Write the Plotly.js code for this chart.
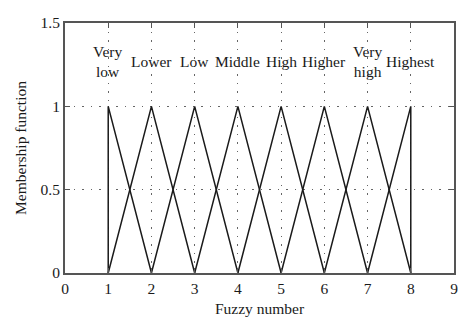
<!DOCTYPE html>
<html>
<head>
<meta charset="utf-8">
<script src="https://cdn.plot.ly/plotly-3.0.1.min.js"></script>
<style>html,body{margin:0;padding:0;background:#fff;}#chart{width:474px;height:335px;}</style>
</head>
<body>
<div id="chart"></div>
<script>
// Membership function names and their peak positions
const labelNames = ["Very<br>low", "Lower", "Low", "Middle", "High", "Higher", "Very<br>high", "Highest"];
const labelX = [1, 2, 3, 4, 5, 6, 7, 8];
const labelY = [1.27, 1.27, 1.27, 1.27, 1.27, 1.27, 1.27, 1.27];

// Triangle vertices for each membership function
const xVeryLow = [1, 1, 2];
const xLower = [1, 2, 3];
const xLow = [2, 3, 4];
const xMiddle = [3, 4, 5];
const xHigh = [4, 5, 6];
const xHigher = [5, 6, 7];
const xVeryHigh = [6, 7, 8];
const xHighest = [7, 8, 8];
const yTri = [0, 1, 0];

const xTicks = [0, 1, 2, 3, 4, 5, 6, 7, 8, 9];
const yTicks = [0, 0.5, 1, 1.5];
const yTickText = ["0", "0.5", "1", "1.5"];

const allX = [xVeryLow, xLower, xLow, xMiddle, xHigh, xHigher, xVeryHigh, xHighest];
const traces = allX.map(xs => ({
  x: xs, y: yTri, type: "scatter", mode: "lines",
  line: {color: "#1a1a1a", width: 1.5}, hoverinfo: "skip"
}));

const fam = "Liberation Serif, DejaVu Serif, serif";
const font = {family: fam, color: "#1a1a1a", size: 15.5};

const annotations = labelNames.map((t, i) => ({
  x: labelX[i], y: labelY[i], xref: "x", yref: "y", text: t, showarrow: false,
  font: {family: fam, size: 15.5, color: "#1a1a1a"}, align: "center"
}));

const axisCommon = {
  showline: true, linecolor: "#555", linewidth: 2, mirror: "ticks",
  ticks: "inside", ticklen: 5, tickcolor: "#555", tickwidth: 1,
  showgrid: true, gridcolor: "#666", griddash: "1.5px,7px", gridwidth: 1.2,
  zeroline: false, tickfont: font
};

const layout = {
  width: 474, height: 335,
  margin: {l: 65, r: 20, t: 23, b: 62},
  paper_bgcolor: "#fff", plot_bgcolor: "#fff",
  showlegend: false,
  font: font,
  xaxis: Object.assign({}, axisCommon, {
    range: [0, 9], tickvals: xTicks, ticktext: xTicks.map(String),
    title: {text: "Fuzzy number", font: font, standoff: 8}
  }),
  yaxis: Object.assign({}, axisCommon, {
    range: [0, 1.5], tickvals: yTicks, ticktext: yTickText,
    title: {text: "Membership function", font: font, standoff: 10}
  }),
  annotations: annotations
};

Plotly.newPlot("chart", traces, layout, {staticPlot: true, displayModeBar: false});
</script>
</body>
</html>
